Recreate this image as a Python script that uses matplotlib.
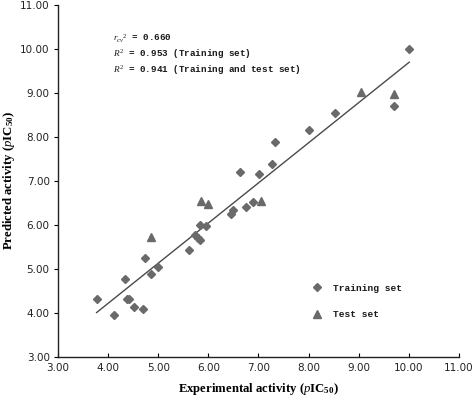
import matplotlib
matplotlib.use("Agg")
import matplotlib.pyplot as plt

# Training set (experimental, predicted)
train_exp = [3.78, 4.11, 4.34, 4.38, 4.42, 4.52, 4.70, 4.74, 4.86, 5.00, 5.61,
             5.73, 5.79, 5.83, 5.84, 5.96, 6.46, 6.49, 6.63, 6.75, 6.90, 7.01,
             7.28, 7.33, 8.00, 8.53, 9.71, 10.01]
train_pred = [4.31, 3.95, 4.77, 4.31, 4.31, 4.14, 4.10, 5.26, 4.89, 5.04, 5.44,
              5.77, 5.71, 5.66, 6.01, 5.98, 6.24, 6.35, 7.20, 6.40, 6.53, 7.15,
              7.38, 7.89, 8.16, 8.54, 8.70, 9.99]
# Test set
test_exp = [4.86, 5.85, 6.00, 7.05, 9.05, 9.71]
test_pred = [5.73, 6.54, 6.48, 6.54, 9.02, 8.98]
# Regression line endpoints
fit_x = [3.77, 10.01]
fit_y = [4.01, 9.70]

xticks = [3, 4, 5, 6, 7, 8, 9, 10, 11]
yticks = [3, 4, 5, 6, 7, 8, 9, 10, 11]

plt.rcParams['mathtext.fontset'] = 'custom'
plt.rcParams['mathtext.rm'] = 'Liberation Serif'
plt.rcParams['mathtext.it'] = 'Liberation Serif:italic'
plt.rcParams['mathtext.bf'] = 'Liberation Serif:bold'

fig = plt.figure(figsize=(4.74, 3.96), dpi=100)
ax = fig.add_axes([0.1224, 0.0985, 0.8456, 0.8889])

col = '#6a6a6a'
ax.plot(fit_x, fit_y, color='#4a4a4a', lw=1.0, zorder=1)
ax.plot(train_exp, train_pred, 'D', color=col, ms=4.5, mec=col, ls='none',
        label='Training set', zorder=2)
ax.plot(test_exp, test_pred, '^', color=col, ms=6, mec=col, ls='none',
        label='Test set', zorder=2)

ax.set_xlim(3, 11)
ax.set_ylim(3, 11)
ax.set_xticks(xticks)
ax.set_yticks(yticks)
ax.set_xticklabels([f"{v:.2f}" for v in xticks], family='DejaVu Sans', fontsize=7.5, color='#222222')
ax.set_yticklabels([f"{v:.2f}" for v in yticks], family='DejaVu Sans', fontsize=7.5, color='#222222')
ax.tick_params(axis='x', direction='in', length=3, width=0.8, pad=4)
ax.tick_params(axis='y', direction='out', length=3, width=0.8, pad=3)
for s in ['top', 'right']:
    ax.spines[s].set_visible(False)
for s in ['left', 'bottom']:
    ax.spines[s].set_linewidth(1.0)
    ax.spines[s].set_color('#222222')

ax.set_xlabel(r'Experimental activity ($\mathbf{\mathit{p}}$IC$_{\mathbf{50}}$)',
              family='Liberation Serif', fontweight='bold', fontsize=9.2, labelpad=6)
ax.set_ylabel(r'Predicted activity ($\mathbf{\mathit{p}}$IC$_{\mathbf{50}}$)',
              family='Liberation Serif', fontweight='bold', fontsize=9.2, labelpad=2)

tfont = dict(family='Liberation Mono', fontsize=6.7, color='#1a1a1a', fontweight='bold')
ax.text(0.137, 0.905, r'$r_{cv}{}^{2}$ = 0.660', transform=ax.transAxes, va='center', **tfont)
ax.text(0.137, 0.862, r'$R^{2}$ = 0.953 (Training set)', transform=ax.transAxes, va='center', **tfont)
ax.text(0.137, 0.817, r'$R^{2}$ = 0.941 (Training and test set)', transform=ax.transAxes, va='center', **tfont)

leg = ax.legend(loc='lower left', bbox_to_anchor=(0.61, 0.083), frameon=False,
                prop={'family': 'Liberation Mono', 'size': 6.8, 'weight': 'bold'},
                handletextpad=1.08, labelspacing=1.86, handlelength=1.2, numpoints=1)
for t in leg.get_texts():
    t.set_color('#1a1a1a')

fig.savefig('out.png', dpi=100)
